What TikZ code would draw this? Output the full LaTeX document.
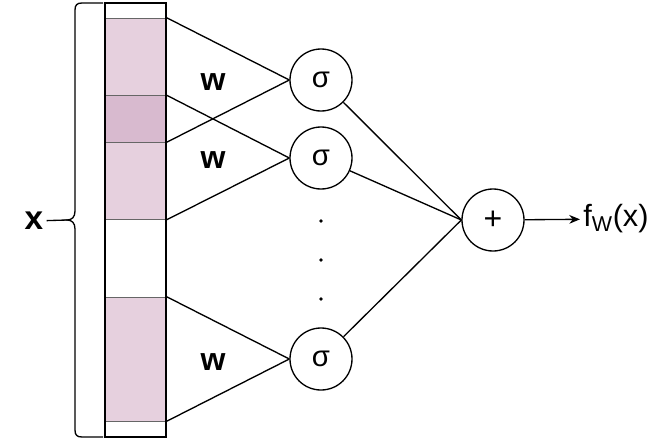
\documentclass[tikz,border=0pt]{standalone}
\usepackage{fontspec}
\setmainfont{Liberation Sans}
\usetikzlibrary{positioning, arrows.meta}
\definecolor{winpink}{HTML}{E6D0DE}
\definecolor{winover}{HTML}{D8BACF}
\tikzstyle{neuron} = [circle, draw, minimum size=46.5pt, inner sep=0pt, font=\fontsize{22}{26}\selectfont]
\tikzstyle{window} = [rectangle, draw=black!60, line width=0.6pt, fill=winpink, minimum width=45.75pt, minimum height=93pt, inner sep=0pt]
\tikzstyle{weight} = [font=\bfseries\fontsize{24}{28}\selectfont]
\tikzstyle{dot} = [circle, fill, minimum size=2.8pt, inner sep=0pt]

\begin{document}
\begin{tikzpicture}[x=0.75pt, y=-0.75pt, line width=1pt]
\useasboundingbox (0,0) rectangle (654,440);
% input column with its windows
\node[window] (w1) at (135.5,80) {};
\node[window] (w2) at (135.5,157.5) {};
\node[window] (w3) at (135.5,359) {};
\fill[winover] (w2.north west) rectangle (w1.south east);
\draw[black!60, line width=0.6pt] (w2.north west) -- (w2.north east) (w1.south west) -- (w1.south east);
\node[rectangle, draw, minimum width=45.75pt, minimum height=325.5pt, inner sep=0pt] (col) at (135.5,220) {};
% brace and input label
\coordinate (tip) at (67,220);
\draw (103,3) -- (82,3) .. controls (77,3) and (75,5) .. (75,10) -- (75,211)
  .. controls (75,217) and (72,220) .. (tip)
  .. controls (72,220) and (75,223) .. (75,229) -- (75,430)
  .. controls (75,435) and (77,437) .. (82,437) -- (103,437);
\node[weight, font=\bfseries\fontsize{25}{29}\selectfont, inner sep=2pt] (x) at (34,221) {x};
\draw (x) -- (tip);
% hidden units
\node[neuron] (s1) at (321,80) {σ};
\node[neuron] (s2) at (321,158) {σ};
\node[neuron] (s3) at (321,359) {σ};
\node[dot] (d1) at (321,221) {};
\node[dot] (d2) at (321,260) {};
\node[dot] (d3) at (321,299) {};
\node[weight] (k1) at (213,82) {w};
\node[weight] (k2) at (213,160) {w};
\node[weight] (k3) at (213,362) {w};
\draw (w1.north east) -- (s1.west);
\draw (w1.south east) -- (s1.west);
\draw (w2.north east) -- (s2.west);
\draw (w2.south east) -- (s2.west);
\draw (w3.north east) -- (s3.west);
\draw (w3.south east) -- (s3.west);
% output
\node[neuron, font=\fontsize{24}{28}\selectfont] (sum) at (493,220) {+};
\draw (s1) -- (sum.west);
\draw (s2) -- (sum.west);
\draw (s3) -- (sum.west);
\node[anchor=west, inner sep=2pt, font=\fontsize{23}{27}\selectfont] (fx) at (580,219) {f\textsubscript{W}(x)};
\draw[-{Stealth[length=8pt, width=6.5pt]}] (sum) -- (fx);
\end{tikzpicture}
\end{document}
